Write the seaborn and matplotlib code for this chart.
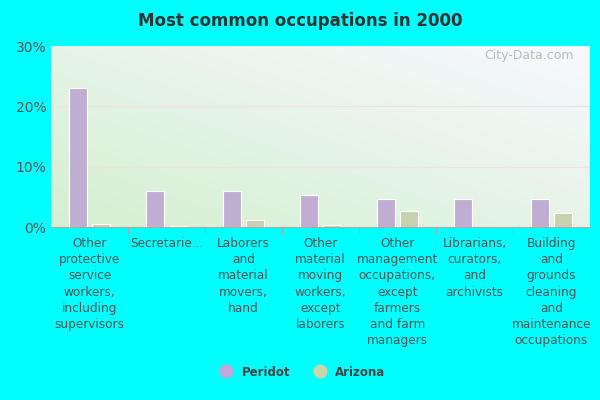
import numpy as np
import pandas as pd
import matplotlib.pyplot as plt
import seaborn as sns
from matplotlib.colors import LinearSegmentedColormap
from matplotlib.lines import Line2D

categories = ["Other\nprotective\nservice\nworkers,\nincluding\nsupervisors",
              "Secretarie...",
              "Laborers\nand\nmaterial\nmovers,\nhand",
              "Other\nmaterial\nmoving\nworkers,\nexcept\nlaborers",
              "Other\nmanagement\noccupations,\nexcept\nfarmers\nand farm\nmanagers",
              "Librarians,\ncurators,\nand\narchivists",
              "Building\nand\ngrounds\ncleaning\nand\nmaintenance\noccupations"]
peridot = [23.0, 6.0, 6.0, 5.3, 4.7, 4.7, 4.7]
arizona = [0.6, 0.2, 1.2, 0.3, 2.6, 0.0, 2.4]

df = pd.DataFrame({"cat": categories * 2,
                   "val": peridot + arizona,
                   "place": ["Peridot"] * 7 + ["Arizona"] * 7})

fig = plt.figure(figsize=(6, 4), dpi=100, facecolor="#00ffff")
ax = fig.add_axes([0.085, 0.432, 0.898, 0.453])

# gradient background
grad = np.linspace(0, 1, 100)
X, Y = np.meshgrid(grad, grad)
G = np.clip(0.5 * X + 0.5 * Y, 0, 1)
cmap = LinearSegmentedColormap.from_list("bg", ["#d4f0d0", "#f8f8ff"])
ax.imshow(G, extent=[-0.5, 6.5, 0, 30], origin="lower", aspect="auto", cmap=cmap, zorder=0)

sns.barplot(data=df, x="cat", y="val", hue="place", palette=["#c0a8d8", "#c8d8a8"],
            width=0.6, gap=0.2, edgecolor="white", linewidth=0.8, ax=ax, zorder=2)
ax.set_xlim(-0.5, 6.5)
ax.set_ylim(0, 30)
ax.set_yticks([0, 10, 20, 30])
ax.set_yticklabels(["0%", "10%", "20%", "30%"], color="#555555", fontsize=10)
ax.set_xlabel("")
ax.set_ylabel("")
ax.tick_params(axis="x", colors="#555555", labelsize=8.7, length=0, pad=7)
for t in ax.get_xticklabels():
    t.set_linespacing(1.32)
ax.tick_params(axis="y", length=0)
for y in [10, 20]:
    ax.axhline(y, color="#f0e0e0", lw=0.8, zorder=1)
for x in np.arange(0.5, 6.5, 1):
    ax.axvline(x, ymin=-0.03, ymax=0, color="#aaaaaa", lw=0.8, clip_on=False)
for s in ["top", "right", "left"]:
    ax.spines[s].set_visible(False)
ax.spines["bottom"].set_color("#aaaaaa")
ax.text(0.97, 0.93, "City-Data.com", transform=ax.transAxes, ha="right",
        color="#bbbbbb", fontsize=9, zorder=3)

ax.legend_.remove()
handles = [Line2D([], [], marker="o", ls="", ms=9, color=c) for c in ["#c0a8d8", "#c8d8a8"]]
leg = fig.legend(handles, ["Peridot", "Arizona"], loc="center", bbox_to_anchor=(0.5, 0.07),
                 ncol=2, frameon=False, columnspacing=1.5, handletextpad=0.3,
                 prop={"weight": "bold", "size": 8.5})
for t in leg.get_texts():
    t.set_color("#444444")

fig.suptitle("Most common occupations in 2000", y=0.97, fontsize=12, fontweight="bold", color="#333333")
fig.savefig("out.png", dpi=100, facecolor=fig.get_facecolor())
